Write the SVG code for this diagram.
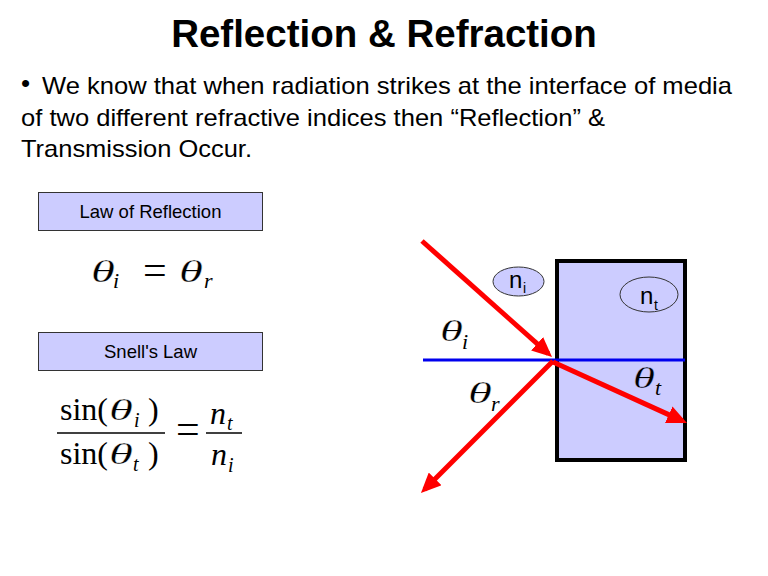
<svg xmlns="http://www.w3.org/2000/svg" width="768" height="576" viewBox="0 0 768 576">
<defs>
<style>
.sans{font-family:"Liberation Sans",Arial,sans-serif;fill:#000}
.math{font-family:"Liberation Serif","Times New Roman",serif;fill:#000}
.it{font-style:italic}
.th{font-style:italic;stroke:#fff;stroke-width:0.3}
.box{fill:#ccccff;stroke:#333;stroke-width:1}
.ray{stroke:#ff0000;stroke-width:5;fill:none}
</style>
<marker id="ah" viewBox="0 0 4 3.6" refX="3" refY="1.8" markerWidth="4" markerHeight="3.6" orient="auto" markerUnits="strokeWidth">
<path d="M0,0 L4,1.8 L0,3.6 z" fill="#ff0000"/>
</marker>
</defs>
<rect width="768" height="576" fill="#fff"/>
<g id="title"><text class="sans" x="384" y="47" font-size="38.5" font-weight="bold" text-anchor="middle">Reflection &amp; Refraction</text></g>
<g id="bullet" class="sans" font-size="24">
<text x="21" y="92" font-size="26">•</text>
<text x="42" y="94" textLength="690" lengthAdjust="spacingAndGlyphs">We know that when radiation strikes at the interface of media</text>
<text x="21" y="126" textLength="584" lengthAdjust="spacingAndGlyphs">of two different refractive indices then “Reflection” &amp;</text>
<text x="21" y="157" textLength="231" lengthAdjust="spacingAndGlyphs">Transmission Occur.</text>
</g>
<g id="law-reflection">
<rect class="box" x="38.5" y="192.5" width="224" height="38"/>
<text class="sans" x="150.5" y="218" font-size="18.5" text-anchor="middle">Law of Reflection</text>
</g>
<g id="eq-reflection" class="math">
<text class="th" x="91" y="282" font-size="31" textLength="24" lengthAdjust="spacingAndGlyphs">θ</text>
<text class="it" x="113" y="288" font-size="22">i</text>
<text x="143" y="284" font-size="42">=</text>
<text class="th" x="179" y="282" font-size="31" textLength="24" lengthAdjust="spacingAndGlyphs">θ</text>
<text class="it" x="204" y="288" font-size="22">r</text>
</g>
<g id="snells-law">
<rect class="box" x="38.5" y="332.5" width="224" height="38"/>
<text class="sans" x="150.5" y="358" font-size="18.5" text-anchor="middle">Snell's Law</text>
</g>
<g id="eq-snell" class="math">
<text x="60" y="420" font-size="32">sin(</text>
<text class="th" x="109" y="420" font-size="30" textLength="24" lengthAdjust="spacingAndGlyphs">θ</text>
<text class="it" x="134" y="427" font-size="20">i</text>
<text x="148" y="420" font-size="32">)</text>
<line x1="57" y1="433" x2="165" y2="433" stroke="#000" stroke-width="1.5"/>
<text x="60" y="464" font-size="32">sin(</text>
<text class="th" x="109" y="464" font-size="30" textLength="24" lengthAdjust="spacingAndGlyphs">θ</text>
<text class="it" x="133" y="471" font-size="20">t</text>
<text x="148" y="464" font-size="32">)</text>
<text x="176" y="443" font-size="42">=</text>
<text class="it" x="210" y="424" font-size="32">n</text>
<text class="it" x="227" y="430" font-size="20">t</text>
<line x1="206" y1="433" x2="242" y2="433" stroke="#000" stroke-width="1.5"/>
<text class="it" x="211" y="465" font-size="32">n</text>
<text class="it" x="228" y="472" font-size="20">i</text>
</g>
<g id="medium">
<rect x="557" y="261" width="128" height="199" fill="#ccccff" stroke="#000" stroke-width="4"/>
</g>
<g id="n-i">
<ellipse cx="518.5" cy="281.5" rx="25.5" ry="14.5" fill="#ccccff" stroke="#333" stroke-width="1"/>
<text class="sans" x="509" y="288" font-size="24">n</text>
<text class="sans" x="523" y="293" font-size="14">i</text>
</g>
<g id="n-t">
<ellipse cx="649" cy="294.5" rx="29" ry="17.5" fill="#ccccff" stroke="#333" stroke-width="1"/>
<text class="sans" x="640" y="304" font-size="24">n</text>
<text class="sans" x="654" y="310" font-size="14">t</text>
</g>
<g id="connectors">
<line x1="423" y1="360" x2="685" y2="360" stroke="#0000ee" stroke-width="3"/>
<line class="ray" x1="422" y1="241" x2="548.3" y2="353.7" marker-end="url(#ah)"/>
<line class="ray" x1="553" y1="361" x2="424.5" y2="489.5" marker-end="url(#ah)"/>
<line class="ray" x1="553" y1="362" x2="682.4" y2="420.9" marker-end="url(#ah)"/>
</g>
<g id="angle-labels" class="math">
<text class="th" x="440" y="341" font-size="30" textLength="23" lengthAdjust="spacingAndGlyphs">θ</text>
<text class="it" x="462" y="349" font-size="22">i</text>
<text class="th" x="468" y="403" font-size="30" textLength="24" lengthAdjust="spacingAndGlyphs">θ</text>
<text class="it" x="491" y="411" font-size="22">r</text>
<text class="th" x="633" y="388" font-size="30" textLength="22" lengthAdjust="spacingAndGlyphs" style="stroke:#ccccff">θ</text>
<text class="it" x="655" y="395" font-size="22">t</text>
</g>
</svg>
